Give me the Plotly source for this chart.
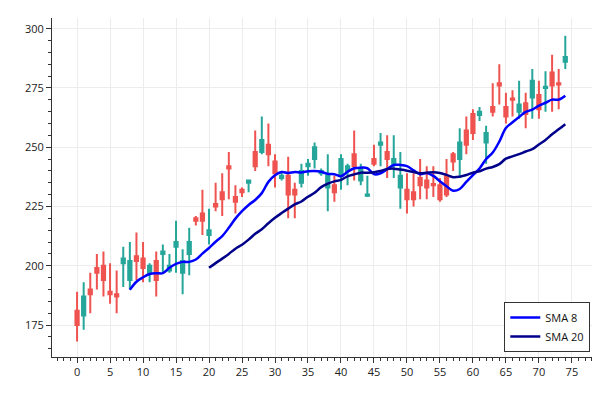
import numpy as np
import plotly.graph_objects as go

# candle data
opens = [181, 179, 190, 199, 200, 189, 188, 201, 194, 204, 203, 197, 202, 205, 198,
         208, 197, 205, 220, 222, 213, 226, 231, 242, 229, 232, 235, 248, 248, 251,
         244, 237, 238, 232, 235, 242, 245, 239, 233, 234, 238, 240, 247, 236, 229.5,
         245, 251, 248, 243, 233, 232, 231, 237, 236, 234.5, 234, 238, 247, 245, 257,
         264, 263.6, 252, 267, 277, 267, 270.5, 265, 268.5, 271, 272, 275, 281.5, 277, 286]
highs = [189, 193, 197, 205, 206, 201, 198, 208, 210, 214, 210, 201, 206, 209, 205,
         219, 207, 216, 221, 232, 224, 235, 239, 248, 234, 233, 236, 257, 263, 260,
         247, 240, 246, 235, 243, 245, 252, 241, 247, 238, 247, 243, 257, 243, 238,
         251, 256, 255, 255, 248, 239, 239, 245, 242, 242, 237, 245, 248, 258, 263,
         266, 267, 259, 277, 285, 273, 274, 278, 273, 283, 278, 282, 289, 283, 297]
lows = [168, 173, 180, 190, 187, 184, 180, 191, 190, 194, 193, 193, 187, 197, 197,
        197, 188, 196, 217, 213, 209, 223, 221, 228, 222, 229, 231, 240, 247, 242,
        233, 236, 220, 220, 233, 238, 241, 238, 223, 227, 232, 234, 236, 234, 229,
        242, 242, 237, 237, 224, 222, 225, 228, 228, 229, 227, 229, 240, 238, 247,
        253, 261, 243, 263, 268, 260, 263, 262, 258, 262, 262, 265, 265, 266, 283]
closes = [175, 187, 188, 197, 194, 188, 187, 203, 202, 202, 199, 200, 194, 206, 200,
          210, 202, 210, 219, 219, 215, 225, 228, 241, 227, 231, 236, 242, 253, 247,
          239, 238, 230, 230, 240, 243, 250, 240, 238, 231, 245, 242, 242, 241, 230,
          243, 252, 245, 245, 238, 228, 228, 234, 233, 234, 228, 230, 244, 252, 251,
          256, 265, 256, 265, 276, 263, 270, 268, 264, 278, 266, 275.5, 276, 276.5, 288]
periods = [8, 20]
line_colors = ["#0000ff", "#00008b"]

x = list(range(len(closes)))
c = np.array(closes, dtype=float)

fig = go.Figure()
fig.add_trace(go.Candlestick(
    x=x, open=opens, high=highs, low=lows, close=closes,
    increasing=dict(line=dict(color="#26a69a", width=2), fillcolor="#26a69a"),
    decreasing=dict(line=dict(color="#ef5350", width=2), fillcolor="#ef5350"),
    whiskerwidth=0, showlegend=False,
))

for n, col in zip(periods, line_colors):
    xs = x[n:]
    ys = [c[i - n:i].mean() for i in xs]
    fig.add_trace(go.Scatter(x=xs, y=ys, mode="lines", name=f"SMA {n}",
                             line=dict(color=col, width=2.5, shape="spline")))

axis_common = dict(showgrid=True, gridcolor="#ececec", showline=True, linecolor="#333",
                   ticks="outside", ticklen=5, tickcolor="#333",
                   minor=dict(ticks="outside", ticklen=3, tickcolor="#333", showgrid=False),
                   zeroline=False, tickfont=dict(size=11, color="#222"))

# page body has an 8px margin, so the figure is sized to fit the window
fig.update_layout(
    width=592, height=392,
    margin=dict(l=44, r=7, t=10, b=43),
    paper_bgcolor="white", plot_bgcolor="white",
    font=dict(family="Open Sans, DejaVu Sans, sans-serif"),
    xaxis=dict(range=[-3.8, 78.2], dtick=5, tick0=0, minor_dtick=1,
               rangeslider=dict(visible=False), **axis_common),
    yaxis=dict(range=[161.5, 304.5], dtick=25, tick0=175, minor_dtick=5, mirror=True,
               **axis_common),
    legend=dict(x=0.995, y=0.015, xanchor="right", yanchor="bottom",
                bordercolor="#333", borderwidth=1, bgcolor="white",
                font=dict(size=11, color="#111"), itemwidth=30),
)

fig.write_html("out.html")
